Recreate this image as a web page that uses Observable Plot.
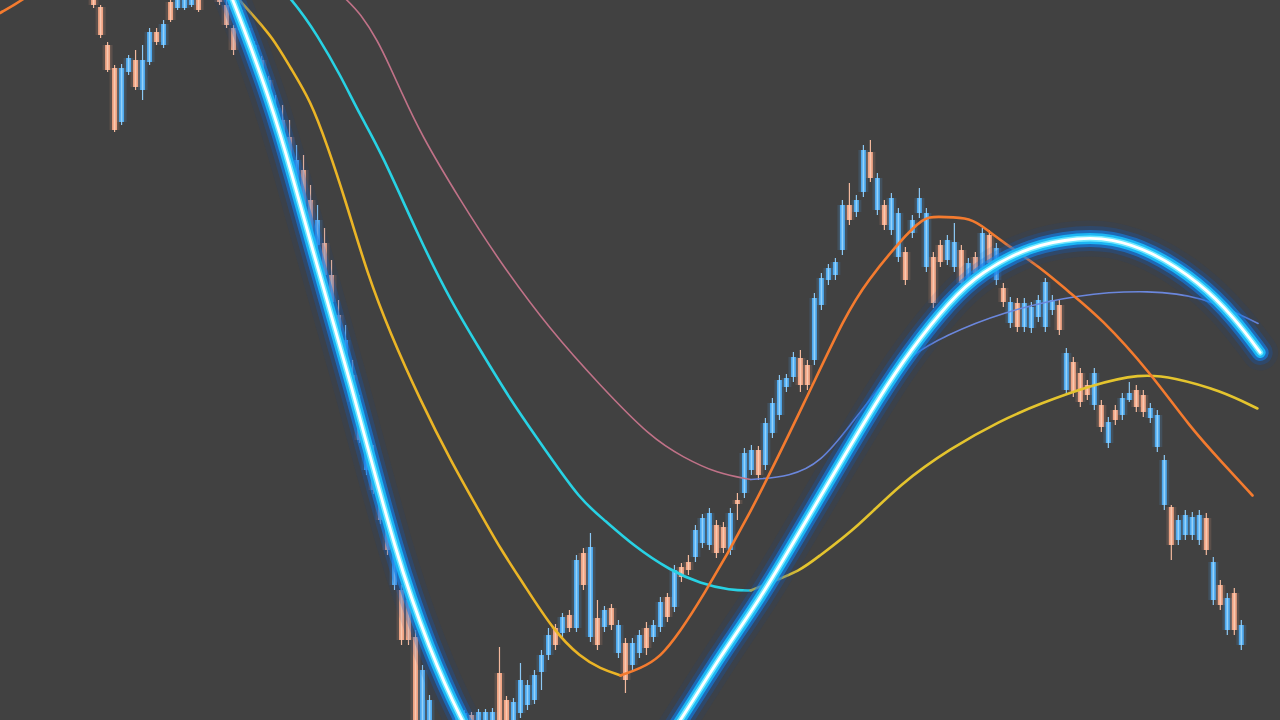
<!DOCTYPE html>
<html><head><meta charset="utf-8">
<script src="https://cdn.jsdelivr.net/npm/d3@7"></script>
<script src="https://cdn.jsdelivr.net/npm/@observablehq/plot@0.6"></script>
<style>html,body{margin:0;padding:0;background:#414141;overflow:hidden}#chart svg{display:block}</style>
</head><body><div id="chart"></div>
<script>
// ---- candle data (price units) ----
const open = [172.5,171.3,167.5,165.2,159.8,164.8,166,163,165.8,168.8,167.5,171.8,171.2,171.2,171.5,172.3,172.5,173,173.5,171.5,169.2,171,169.2,165.8,166,164,159.2,160,158.3,153.5,155,152,147.5,147.7,144.5,140.5,135.5,134.5,131,125,126,123,120.2,113.5,113,112,108.3,99,98,99.5,96,97,98,99,100.5,99,99.5,99.2,104.7,102,99.8,100.7,101.5,102,104.8,106.5,109.2,108.7,110.5,109.2,116.7,108.3,110.2,109.3,111.2,106.7,107.7,105.5,106.7,109.2,108.3,109.3,112.3,111.3,115.3,115.8,116.3,117.7,117.5,119.5,119.3,117,122,122.7,125,127,125.5,128.7,130.5,133.3,134.3,136.2,135.5,136,141.5,144,144.5,147,151.5,150.8,152.8,156.8,151,151.5,149,146.3,146.8,148.7,150.7,145.3,146.3,147.5,146,145.3,147,144,146.3,145,148.5,144,143.2,139.7,141.7,139.3,139.2,140.3,139.3,141,141.5,133,135.8,134.7,133.5,131.5,131.5,127.7,131,130.5,132,133,132.5,130.2,127.3,121.5,121.3,118,118.5,118.5,118,120.2,112,113.5,109,112.7,107.5];
const close = [171.5,168.5,165,159,165.2,166.2,163.3,166,168.8,167.8,169.6,170,172,172.2,172.5,171,174,174.5,171.8,169.5,167,169,167.5,167.5,164,162,161.2,157,156,156,151.5,148.5,150,144.5,141.8,137.5,138,131.8,128,128,123,120,117,117,108,108,99,105,102,96,99,99.5,100.4,100.7,99,100.8,100.8,100.8,99.5,99.8,101.8,104,103.5,104.5,106.5,108.5,107.5,110.3,109.2,116,113.5,117.3,107.5,111,109.5,109.5,104,107.7,108.5,107.2,109.5,111.8,110.3,115,114.3,115,119,120.2,120.7,116.7,117.2,120.7,121.6,126.7,127,124.5,129.7,131.7,134,134.2,136.3,133.5,133.5,142.2,144.2,145.2,145.8,151.5,150,152,157,154.2,154.2,149.5,152.2,150.7,144,150,152.2,150.7,141.7,145.8,148,147.8,143.7,145.7,144.7,148.7,145.7,147.2,141.8,141.8,139.3,141.7,141.3,142,143.8,142,139,136.7,132.8,131.8,132.5,134.7,129.3,129.8,130,132.2,132.7,131.3,130.8,131.2,130.5,126,117.5,120,120.5,120.3,120.5,117,115.8,111.5,112.2,109,109.5];
const high = [173,171.5,167.8,165.5,165.6,166.5,167,167.5,169.2,169.2,170,172,172.3,172.5,172.8,172.6,174.5,174.8,174,172,169.5,171.4,169.6,167.9,166.4,164.4,162.5,161.5,160,157.5,156.5,153.5,151.5,149.2,146,142,139.5,136,132.5,129.5,127.5,124.4,121.5,118.5,113.5,112.4,109,105.5,102.5,99.8,99.4,99.8,100.7,101,100.8,101.1,101.1,101.2,107.3,102.4,102.2,105.7,104,105,107,109.2,109.6,110.7,111,116.5,117.2,118.7,112,111.4,111.6,110,108.2,108.2,109,109.8,110,112.3,112.7,115.5,115.7,116.5,119.5,120.6,121.2,120,119.8,121.2,122.7,127.2,127.5,127.4,130.2,132.2,134.5,134.6,136.8,137,136,142.7,144.7,145.6,146.2,152,153.7,152.5,157.5,158,154.7,152,152.7,151.2,147.3,150.5,153.2,151.2,146.8,148,148.5,149.7,147.5,146.2,146.8,149.2,149,147.7,143.7,142.3,142.2,142.2,141.8,142.5,144.2,142.5,142,137.2,136.3,135.2,134,135.2,132,130.3,131.5,132.7,133.8,133.5,133,131.7,131,126.5,121.5,120.5,121,120.8,121,120.7,116.3,114,112.7,113.2,110];
const low = [171.2,168.2,164.8,158.8,159.5,164.5,163,162,165.5,167.5,167.2,169.8,171,171,171.3,170.8,172.2,172.6,171.5,169.2,166.5,168.6,167.2,165.4,163.6,161.6,158.8,156.7,155.2,153.2,151.2,148.2,147,144.2,141.4,137.2,135,131.5,127.7,124.5,122.6,119.6,116.5,113,107.5,107.5,98,98,97.5,95.5,95.5,96.5,97.5,98.5,98.5,98.5,99,98.8,99,99.4,99.4,100.2,101,101.6,103,106,107,108.3,108.8,108.8,113,107.8,107,108.8,109,106.2,102.7,105,106.2,106.5,107.8,108.8,109.8,110.8,113.8,114.5,115.8,117.2,117,116.2,116.7,116.5,120,122.2,124.5,124,125,128.2,130,132.8,133.8,132.8,133,135.5,141,143.5,144,146.5,149.5,150.3,152.3,153.8,150.5,149,148.5,145.8,143.5,148.2,150.2,144.8,141.2,145.3,145.5,144.8,143.2,143.5,144.2,144.5,145.2,143.5,141.3,139.2,138.8,138.8,138.7,139.8,138.8,140.5,138.5,132.5,132.3,131.3,132,131,128.8,127.2,129.5,130,131.8,130.8,130.3,129.7,126.8,121,116,117.5,118,118,117.5,116.5,111.5,111,108.5,108.5,107];

// ---- moving-average lines (candle index, price) ----
const fastEarlyT = [-14.7,-13.3,-10.1,-4.7,1,6];
const fastEarlyV = [170.2,170.8,172,175,177.2,178];
const fastDownT = [6,11,16.7,20.3,22.4,25.6,28.1,31,33.4,36,39.1,42.4,46.7,51,55.3,58.1,61.4,65.7,69.6,72.4,75.3];
const fastDownV = [178,177.2,174.8,172.5,170.8,168.3,165.3,162,157.5,152,144.7,138.7,132,126,120.7,117.2,113.7,109,106.3,105.2,104.5];
const fastUpT = [75.3,78.1,81,83.9,86.7,93.4,102,107.4,110.6,115.3,118.6,120.3,124.9,126.7,129.6,135.3,139.1,143.9,151,156.7,161.4,165.6];
const fastUpV = [104.5,105.2,106.3,109,112,120,132.4,140.5,144,148,150.3,150.4,150.3,149.6,148,145.3,143,140.3,134.8,129.3,125.7,122.5];
const midDownT = [8.1,15.3,22.4,28.6,32,35.3,38.1,41,46.7,51,55.3,59.6,64.6,69.6,73.1,77.1,82.4,86.7,91,93.9];
const midDownV = [180.5,179.5,176.5,172,168.5,164.5,160.5,157,148,142,137,132,127,122,120,117.5,115,113.7,113,113];
const midUpT = [93.9,96.7,101,103.4,109.1,115.3,122.4,129.6,135.3,142.4,149.6,154.3,161,166.3];
const midUpV = [113,113.8,115,116.3,119.3,123.7,127.2,130,131.7,133.5,134.7,134.3,133,131.2];
const slowDownT = [25.3,31.7,36.3,38.1,40.6,42.4,43.9,46.7,52.4,58.1,65.3,72.4,79.6,84.3,89.1,93.9];
const slowDownV = [179.5,175,172,170.7,168,165.3,163,158.7,152,145.8,139,133.5,128.3,126.3,124.7,124.1];
const slowUpT = [93.9,99.6,103.9,108.1,112.4,116.7,121.7,129.6,141,151,158.1,166.4];
const slowUpV = [124.1,124.4,125.8,129.5,133.5,136.5,138.5,140.8,142.7,143,142.5,139.7];
const glowT = [11,15.3,20,25.3,28.6,30.7,36.7,43.4,48.1,52,58.1,66.7,75.3,83.9,89.6,95.3,101,106.7,112.4,116.7,122.4,126.7,133.9,141,145.3,151,158.1,163.1,166.7];
const glowV = [185,180,172,162,154,148.5,134,116,107,100.7,93,88,91,100,106.5,112.2,119,125.8,132.5,137,142,144.8,147.5,148.3,148.2,147,143.8,140.2,136.8];

const candles = open.map((o, i) => ({i, open: o, close: close[i], high: high[i], low: low[i]}));
const seg = (t, v) => t.map((x, k) => ({t: x, v: v[k]}));
const up = d => d.close >= d.open;
const bodyCol = d => up(d) ? "#4eaaf0" : "#efa383";
const coreCol = d => up(d) ? "#a8dcfc" : "#fbd2bd";
const wickCol = d => up(d) ? "#8cc8f4" : "#f3b99d";

const line = (t, v, stroke, w, opts = {}) =>
  Plot.line(seg(t, v), {x: "t", y: "v", stroke, strokeWidth: w, curve: "basis", clip: true, strokeLinecap: "round", ...opts});

const glowLayers = [
  ["#0a40a0", 36, 0.10],
  ["#0d5fd0", 25, 0.24],
  ["#1480ea", 17, 0.6],
  ["#1cb6f5", 11, 1],
  ["#6fe8ff", 6, 1],
  ["#ffffff", 2.8, 1]
];

const chart = Plot.plot({
  width: 1280, height: 720, margin: 0,
  x: {domain: [-13.3, 169.6], axis: null},
  y: {domain: [100, 172], axis: null},
  style: {background: "#414141"},
  marks: [
    Plot.ruleX(candles, {x: "i", y1: "open", y2: "close", stroke: bodyCol, strokeWidth: 10, strokeOpacity: 0.16, clip: true}),
    Plot.ruleX(candles, {x: "i", y1: "low", y2: "high", stroke: wickCol, strokeWidth: 1.2, clip: true}),
    Plot.ruleX(candles, {x: "i", y1: "open", y2: "close", stroke: bodyCol, strokeWidth: 5, clip: true}),
    Plot.ruleX(candles, {x: "i", y1: "open", y2: "close", stroke: coreCol, strokeWidth: 1.6, strokeOpacity: 0.8, clip: true}),
    line(slowDownT, slowDownV, "#c07288", 1.6),
    line(slowUpT, slowUpV, "#6b87dd", 1.6),
    line(midDownT, midDownV, "#28d2e4", 2.6),
    line(midUpT, midUpV, "#e4c42e", 2.6),
    line(fastEarlyT, fastEarlyV, "#f47b2f", 2.6),
    line(fastDownT, fastDownV, "#ebb526", 2.6),
    line(fastUpT, fastUpV, "#f47b2f", 2.6),
    ...glowLayers.map(([c, w, o]) => line(glowT, glowV, c, w, {strokeOpacity: o}))
  ]
});
document.getElementById("chart").appendChild(chart);
</script>
</body></html>
